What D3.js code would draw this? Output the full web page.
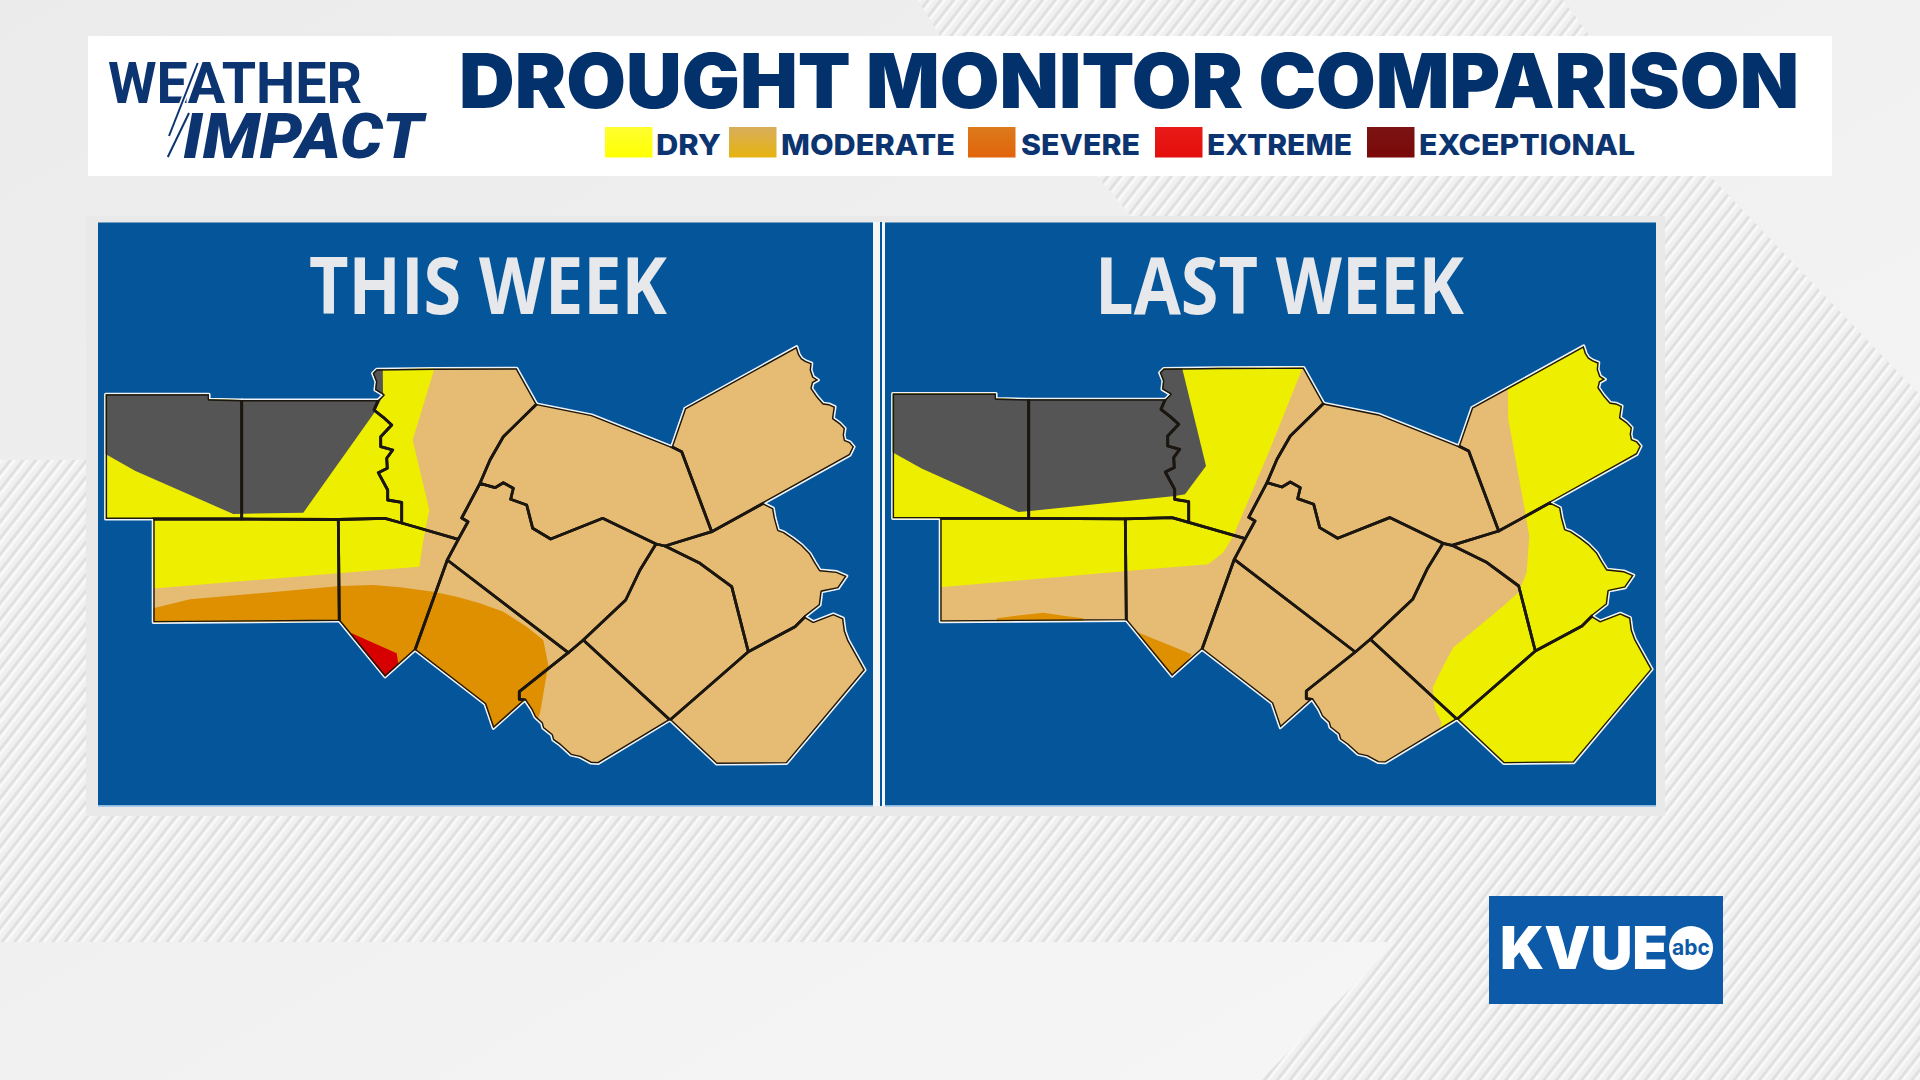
<!DOCTYPE html>
<html><head><meta charset="utf-8">
<script src="https://cdn.jsdelivr.net/npm/d3@7/dist/d3.min.js"></script>
<style>html,body{margin:0;padding:0;background:#eee;overflow:hidden}svg{display:block}</style>
</head><body><svg id="c" width="1920" height="1080"></svg>
<script>
// ---------- DATA ----------
const titleText = "DROUGHT MONITOR COMPARISON";
const panelTitles = ["THIS WEEK", "LAST WEEK"];
const legendLabels = ["DRY", "MODERATE", "SEVERE", "EXTREME", "EXCEPTIONAL"];
const legendColors = [["#ffff30","#ffff00"],["#d8ae5c","#e6b30f"],["#dc7a1c","#e2640a"],["#e81a18","#e40f0c"],["#7c1414","#7a0808"]];
// county outlines in map units
const riverBorder = [[293.3,55],[288.3,60],[284,70],[293.3,77.3],[301.7,85],[290.7,96.7],[290.7,106.7],[302.7,110],[296.7,118.3],[297.3,128.3],[288.3,132.7],[297.7,150],[297.7,160],[311.7,162.3],[311.7,183]];
const countyA = [[15.7,54.3],[119,54.3],[119,59.3],[151.7,60],[151.7,179],[15.7,179]];
const countyB = [[151.7,60],[288.3,60],...riverBorder.slice(2),[295,178.3],[248.3,179.5],[151.7,179]];
const countyC = [[286.7,29.3],[343,28.5],[426.7,28.3],[446.7,64],[413.3,96.7],[400,120],[390,143.3],[371.7,178],[378,181.7],[368.3,199.3],...riverBorder.slice().reverse(),[285,50],[286,41.7],[282.7,33.3]];
const countyD = [[63.3,179],[151.7,179],[248.3,179.5],[249.3,281],[63.3,282.3]];
const countyE = [[248.3,179.5],[295,178.3],[311.7,183],[368.3,199.3],[357.3,220],[325,310],[295,336.7],[249.3,281]];
const countyF = [[357.3,220],[478.3,312.7],[429.3,351.7],[429.3,359.3],[435,360],[403.3,388.3],[395,364],[361.7,338.3],[325,310]];
const countyG = [[390,143.3],[405,147.7],[413.3,142.7],[423.3,148.3],[420.7,159.3],[436.7,165],[442.7,188.3],[460.7,199],[512.7,178.3],[566,204],[550,230],[535.7,260],[493.3,300],[478.3,312.7],[357.3,220],[368.3,199.3],[378,181.7],[371.7,178]];
const countyH = [[446.7,64],[501.7,75],[581.7,106.7],[591.7,111.7],[621.7,191.7],[575,206],[566,204],[512.7,178.3],[460.7,199],[442.7,188.3],[436.7,165],[420.7,159.3],[423.3,148.3],[413.3,142.7],[405,147.7],[390,143.3],[400,120],[413.3,96.7]];
const countyI = [[581.7,106.7],[595,68.3],[706.7,6.7],[709,14],[711.7,18.3],[716,21],[721.7,23.3],[721,30],[723.3,36.7],[728.3,40],[723,43],[721.7,48.3],[727,56],[733.3,63.3],[739,64],[745,66.7],[743.3,78.3],[750,83],[755,88.3],[754,95],[755,100],[760,102],[764,106.7],[760,115],[673.3,163.3],[621.7,191.7],[591.7,111.7]];
const countyJ = [[673.3,163.3],[683.3,168.3],[685,178],[688.3,190],[694,192],[703.3,198.3],[712,205],[720,213.3],[725,222],[730,230],[746.7,231.7],[756.7,236],[748.3,248.3],[731.7,251.7],[730,265],[715,276.7],[705,286.7],[658.3,311.7],[641.7,246.7],[610,223.3],[575,206],[621.7,191.7]];
const countyK = [[566,204],[575,206],[610,223.3],[641.7,246.7],[658.3,311.7],[580,380],[493.3,300],[535.7,260],[550,230]];
const countyL = [[658.3,311.7],[705,286.7],[715,276.7],[723.3,281.7],[743.3,274],[753.3,278.3],[755,291],[758.3,300],[775,330],[696.7,423.3],[626.7,424],[580,380]];
const countyM = [[493.3,300],[580,380],[508.3,423.3],[501,423],[490,417],[481,415],[470,405],[463,400],[461.7,395],[453,388],[451.7,383.3],[445,377],[441.7,370],[435,360],[429.3,359.3],[429.3,351.7],[478.3,312.7]];
const counties = [countyA,countyB,countyC,countyD,countyE,countyF,countyG,countyH,countyI,countyJ,countyK,countyL,countyM];
// drought class areas in map units, painted in order over the moderate base
const thisWeekDry = [[0,20],[347,20],[322.7,100],[339.3,170],[333.3,200],[329.3,226.7],[248.3,233.3],[66.7,248.3],[0,248.3]];
const thisWeekNone = [[10,111],[45,130.7],[143.3,174],[213.3,172.7],[285,71.7],[293,55],[292.7,20],[10,20]];
const thisWeekSevere = [[50,270],[63.3,268.3],[100,259.3],[186.7,251.7],[250,246],[283.3,245],[310,247.3],[343.3,251.7],[366.7,256.7],[390,263.3],[413.3,271.7],[436.7,286.7],[453.3,300],[458.3,325],[450,373.3],[430,420],[50,420]];
const thisWeekExtreme = [[261.7,293.3],[306.7,313.3],[308.3,323.3],[295,345],[255,300]];
const lastWeekDry = [[0,20],[429,20],[393,110],[356.3,196.7],[346.3,213.3],[331.3,225],[249.7,231.7],[66.3,247.7],[0,247.7]];
const lastWeekDryEast = [[630.3,0],[631.3,80],[648,171.7],[652.3,196.7],[649.7,233.3],[641.3,253.3],[626.3,266.7],[576.3,308.3],[566.3,326.7],[555.7,348.3],[558,370],[564.7,383.3],[560,400],[620,450],[800,450],[800,0]];
const lastWeekNone = [[10,110],[44.7,129.3],[141.3,172.7],[153,171.7],[298,156.7],[308,155],[329,126.7],[303,20],[10,20]];
const lastWeekSevereA = [[119.7,279],[143,276],[166.3,273.5],[189.7,277],[206.3,279],[206,290],[120,290]];
const lastWeekSevereB = [[261.3,293.3],[314.7,315],[296,345],[255,300]];
const classColor = {dry:"#eeee00", none:"#555555", moderate:"#e6bc75", severe:"#de9000", extreme:"#d60000"};
const thisWeekAreas = [["dry",thisWeekDry],["none",thisWeekNone],["severe",thisWeekSevere],["extreme",thisWeekExtreme]];
const lastWeekAreas = [["dry",lastWeekDry],["dry",lastWeekDryEast],["none",lastWeekNone],["severe",lastWeekSevereA],["severe",lastWeekSevereB]];

// ---------- DRAW ----------
const svg = d3.select("#c");
const defs = svg.append("defs");
const navy = "#0b3470";

const bg = defs.append("linearGradient").attr("id","bg").attr("x1",0).attr("y1",0).attr("x2",1).attr("y2",1);
bg.append("stop").attr("offset",0).attr("stop-color","#ebebeb");
bg.append("stop").attr("offset",0.6).attr("stop-color","#f2f2f2");
bg.append("stop").attr("offset",1).attr("stop-color","#f8f8f8");
svg.append("rect").attr("width",1920).attr("height",1080).attr("fill","url(#bg)");

const pat = defs.append("pattern").attr("id","hatch").attr("patternUnits","userSpaceOnUse")
  .attr("width",10).attr("height",10).attr("patternTransform","rotate(38)");
pat.append("rect").attr("width",10).attr("height",10).attr("fill","#f0f0f0");
pat.append("rect").attr("x",0).attr("width",3).attr("height",10).attr("fill","#e0e0e0");
pat.append("rect").attr("x",3).attr("width",3).attr("height",10).attr("fill","#f8f8f8");

const hatchAreas = [
  [[918,0],[1563,0],[1590,36],[940,36]],
  [[1097,176],[1710,176],[1920,395],[1920,1080],[1261,1080],[1396,942],[0,942],[0,460],[90,460],[90,217],[1132,217]]
];
svg.selectAll("path.hatch").data(hatchAreas).join("path").attr("class","hatch")
  .attr("d",d=>d3.line()(d)+"Z").attr("fill","url(#hatch)");

// header
svg.append("rect").attr("x",88).attr("y",36).attr("width",1744).attr("height",140).attr("fill","#fff");
svg.append("text").text(titleText).attr("x",459).attr("y",108)
  .attr("textLength",1340).attr("lengthAdjust","spacingAndGlyphs")
  .attr("font-family","Inter").attr("font-weight",900).attr("font-size",76).attr("fill","#03316c");

// logo: one text with two lines
const logo = svg.append("text").attr("fill",navy).attr("font-family","Roboto");
logo.append("tspan").text("WEATHER").attr("x",108).attr("y",103)
  .attr("textLength",254).attr("lengthAdjust","spacingAndGlyphs")
  .attr("font-weight",700).attr("font-size",57);
logo.append("tspan").text("IMPACT").attr("x",183).attr("y",158)
  .attr("textLength",240).attr("lengthAdjust","spacingAndGlyphs")
  .attr("font-weight",900).attr("font-style","italic").attr("font-size",62);
const bolt = [[[197.7,63],[169,136]],[[189,113],[167.8,157]]];
bolt.forEach(l=>{
  svg.append("path").attr("d",d3.line()(l)).attr("stroke","#fff").attr("stroke-width",5);
  svg.append("path").attr("d",d3.line()(l)).attr("stroke",navy).attr("stroke-width",2);
});

// legend
const swatchX = d3.scaleOrdinal().domain(legendLabels).range([605,729,968,1155,1367]);
const labelStart = d3.scaleOrdinal().domain(legendLabels).range([656,781,1021,1207,1419]);
const labelWidth = d3.scaleOrdinal().domain(legendLabels).range([65,174,119,145,216]);
legendLabels.forEach((n,i)=>{
  const g = defs.append("linearGradient").attr("id","sw"+i).attr("x1",0).attr("y1",0).attr("x2",0).attr("y2",1);
  g.append("stop").attr("offset",0).attr("stop-color",legendColors[i][0]);
  g.append("stop").attr("offset",1).attr("stop-color",legendColors[i][1]);
  svg.append("rect").attr("x",swatchX(n)).attr("y",127).attr("width",47.5).attr("height",30.5).attr("fill",`url(#sw${i})`);
  svg.append("text").text(n).attr("x",labelStart(n)).attr("y",155)
    .attr("textLength",labelWidth(n)).attr("lengthAdjust","spacingAndGlyphs")
    .attr("font-family","Inter").attr("font-weight",800).attr("font-size",29).attr("fill",navy);
});

// frame and panels
svg.append("rect").attr("x",86).attr("y",216).attr("width",1579).attr("height",600).attr("fill","#e9e9e9");
svg.append("rect").attr("x",873).attr("y",222).attr("width",12).attr("height",584).attr("fill","#f4f6f8");
svg.append("rect").attr("x",880).attr("y",222).attr("width",2).attr("height",584).attr("fill","#04559a");

const panels = [
  {id:"p0", x0:98,  x1:873,  areas:thisWeekAreas, dx:0,   dy:0,    title:panelTitles[0], tx:309,  tw:358},
  {id:"p1", x0:885, x1:1656, areas:lastWeekAreas, dx:787, dy:-0.7, title:panelTitles[1], tx:1095, tw:369}
];
panels.forEach(p=>{
  const x = d3.scaleLinear().domain([0,800]).range([90+p.dx,890+p.dx]);
  const y = d3.scaleLinear().domain([0,450]).range([340+p.dy,790+p.dy]);
  const poly = d3.line().x(d=>x(d[0])).y(d=>y(d[1]));
  svg.append("rect").attr("x",p.x0).attr("y",222.5).attr("width",p.x1-p.x0).attr("height",583).attr("fill","#04559a");
  svg.append("rect").attr("x",p.x0).attr("y",805.5).attr("width",p.x1-p.x0).attr("height",1.5).attr("fill","#a8cdee");
  svg.append("text").text(p.title).attr("x",p.tx).attr("y",313.5)
    .attr("textLength",p.tw).attr("lengthAdjust","spacingAndGlyphs")
    .attr("font-family","Open Sans").attr("font-weight",700).attr("font-size",79).attr("fill","#e6e8ec");

  const clip = defs.append("clipPath").attr("id",p.id);
  clip.selectAll("path").data(counties).join("path").attr("d",d=>poly(d)+"Z");

  const g = svg.append("g");
  g.selectAll("path.halo").data(counties).join("path").attr("class","halo")
    .attr("d",d=>poly(d)+"Z").attr("fill","none").attr("stroke","#eef4fa").attr("stroke-width",3.2).attr("stroke-linejoin","round");
  const m = g.append("g").attr("clip-path",`url(#${p.id})`);
  m.selectAll("path.base").data(counties).join("path").attr("class","base")
    .attr("d",d=>poly(d)+"Z").attr("fill",classColor.moderate).attr("stroke",classColor.moderate).attr("stroke-width",1);
  m.selectAll("path.area").data(p.areas).join("path").attr("class","area")
    .attr("d",d=>poly(d[1])+"Z").attr("fill",d=>classColor[d[0]]);
  m.selectAll("path.line").data(counties).join("path").attr("class","line")
    .attr("d",d=>poly(d)+"Z").attr("fill","none").attr("stroke","#1b1710").attr("stroke-width",2.8).attr("stroke-linejoin","round");
});

// station logo
svg.append("rect").attr("x",1489).attr("y",896).attr("width",234).attr("height",108).attr("fill","#0d5ba8");
svg.append("text").text("KVUE").attr("x",1500).attr("y",969)
  .attr("textLength",168).attr("lengthAdjust","spacingAndGlyphs")
  .attr("font-family","Inter").attr("font-weight",900).attr("font-size",59).attr("fill","#fff");
svg.append("circle").attr("cx",1691).attr("cy",948).attr("r",22).attr("fill","#fff");
svg.append("text").text("abc").attr("x",1691).attr("y",955).attr("text-anchor","middle")
  .attr("font-family","Inter").attr("font-weight",700).attr("font-size",21).attr("fill","#0d5ba8");
</script></body></html>
